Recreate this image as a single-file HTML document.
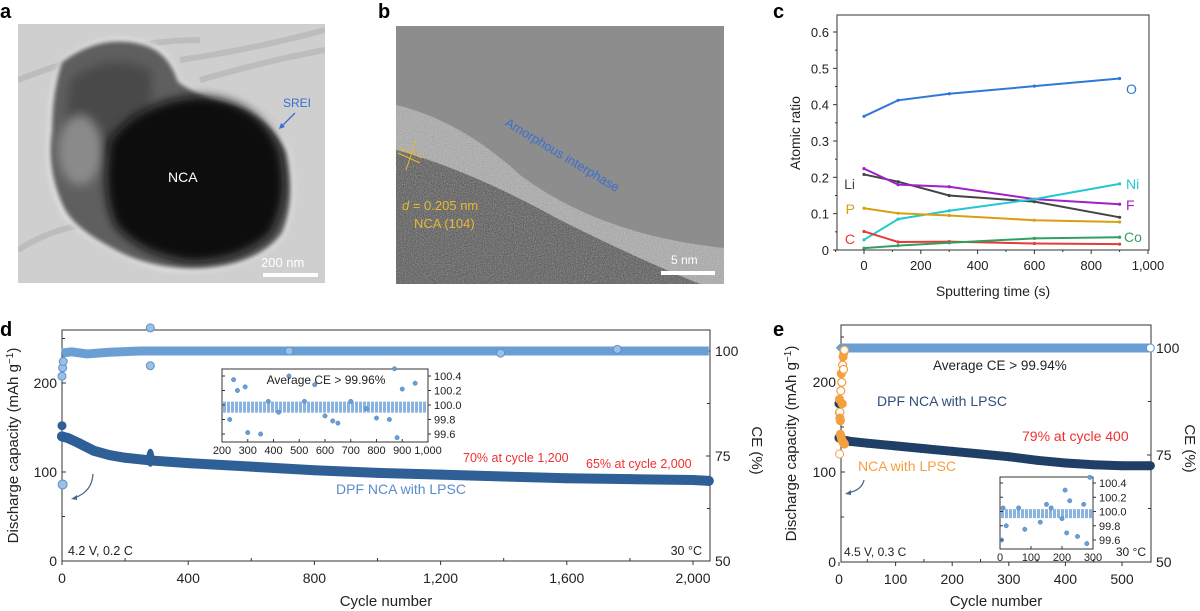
<!DOCTYPE html>
<html><head><meta charset="utf-8">
<style>
html,body{margin:0;padding:0;background:#fff;}
svg{display:block;font-family:"Liberation Sans",sans-serif;}
</style></head>
<body>
<svg id="fig" width="1200" height="611" viewBox="0 0 1200 611" xmlns="http://www.w3.org/2000/svg">
<defs>
<filter id="blur4"><feGaussianBlur stdDeviation="5"/></filter>
<filter id="blur2"><feGaussianBlur stdDeviation="2"/></filter>
<filter id="noise" x="0" y="0" width="100%" height="100%">
<feTurbulence type="fractalNoise" baseFrequency="0.9" numOctaves="2" seed="3"/>
<feColorMatrix type="saturate" values="0"/>
<feComponentTransfer><feFuncA type="linear" slope="0.7"/></feComponentTransfer>
<feComposite in2="SourceGraphic" operator="in"/>
</filter>
<clipPath id="clipA"><rect x="18" y="24" width="307" height="259"/></clipPath>
<clipPath id="clipB"><rect x="396" y="26" width="328" height="258"/></clipPath>
</defs>

<!-- Panel a -->
<g>
<text x="0" y="18" font-size="20" font-weight="bold">a</text>
<g clip-path="url(#clipA)">
<rect x="18" y="24" width="307" height="259" fill="#cfcfcf"/>
<path d="M18 80 Q120 40 200 40 M18 250 Q80 210 150 230 M180 60 Q250 50 325 30 M200 80 Q270 60 325 50" stroke="#bdbdbd" stroke-width="6" fill="none"/>
<path d="M60 60 Q100 30 140 40 Q170 45 180 80 Q200 95 225 100 Q270 110 290 150 Q300 200 285 235 Q260 268 200 272 Q150 275 110 250 Q70 230 60 210 Q42 170 48 130 Q48 90 60 60 Z" fill="#e4e4e4" filter="url(#blur2)"/>
<path d="M62 62 Q100 34 140 44 Q168 50 178 82 Q200 97 225 103 Q268 113 286 152 Q296 200 282 233 Q258 265 200 268 Q150 270 112 248 Q74 228 64 208 Q46 170 52 130 Q52 92 62 62 Z" fill="#5e5e5e" filter="url(#blur2)"/>
<path d="M70 80 Q110 50 150 70 Q160 110 120 150 Q80 170 65 140 Z" fill="#4a4a4a" filter="url(#blur4)"/>
<ellipse cx="80" cy="150" rx="22" ry="35" fill="#8a8a8a" filter="url(#blur4)"/>
<path d="M110 140 Q140 100 200 96 Q260 100 280 150 Q292 200 270 235 Q240 262 190 262 Q140 255 115 225 Q100 190 110 140 Z" fill="#111" filter="url(#blur4)"/>
<text x="168" y="182" font-size="14" fill="#fff">NCA</text>
<text x="283" y="107" font-size="12" fill="#3a6fd0">SREI</text>
<line x1="295" y1="113" x2="281" y2="127" stroke="#3a6fd0" stroke-width="1.3"/>
<path d="M279 129 l2 -6 l4 4 z" fill="#3a6fd0"/>
<text x="261" y="267" font-size="13" fill="#fff">200 nm</text>
<rect x="263" y="273" width="55" height="4" fill="#fff"/>
</g>
</g>

<!-- Panel b -->
<g>
<text x="378" y="18" font-size="20" font-weight="bold">b</text>
<g clip-path="url(#clipB)">
<rect x="396" y="26" width="328" height="258" fill="#8d8d8d"/>
<path d="M396 105 Q460 120 520 175 Q600 235 724 248 L724 284 L396 284 Z" fill="#a8a8a8"/>
<path d="M396 105 Q460 120 520 175 Q600 235 724 248 L724 284 L396 284 Z" fill="#fff" filter="url(#noise)"/>
<path d="M396 150 Q470 170 560 220 Q640 260 700 284 L396 284 Z" fill="#4a4a4a"/>
<path d="M396 150 Q470 170 560 220 Q640 260 700 284 L396 284 Z" fill="#888" filter="url(#noise)"/>
<text x="0" y="0" font-size="13" fill="#3a6fd0" transform="translate(504,125) rotate(31)">Amorphous interphase</text>
<line x1="400" y1="148" x2="422" y2="158" stroke="#e8b830" stroke-width="1.2"/>
<line x1="398" y1="153" x2="420" y2="163" stroke="#e8b830" stroke-width="1.2"/>
<line x1="416" y1="140" x2="406" y2="170" stroke="#e8b830" stroke-width="1"/>
<text x="402" y="210" font-size="13" fill="#e8b830"><tspan font-style="italic">d</tspan> = 0.205 nm</text>
<text x="414" y="228" font-size="13" fill="#e8b830">NCA (104)</text>
<text x="671" y="264" font-size="12" fill="#fff">5 nm</text>
<rect x="661" y="271" width="54" height="4" fill="#fff"/>
</g>
</g>

<g id="pc"></g>
<g id="pd"></g>
<g id="pe"></g>
</svg>
<script>
// ---------- Panel c data ----------
const cTimes = [0, 120, 300, 600, 900];
const cO  = [0.368, 0.412, 0.430, 0.451, 0.472];
const cLi = [0.208, 0.188, 0.150, 0.133, 0.090];
const cF  = [0.224, 0.180, 0.174, 0.140, 0.126];
const cNi = [0.028, 0.085, 0.108, 0.140, 0.182];
const cP  = [0.115, 0.101, 0.095, 0.082, 0.077];
const cC  = [0.051, 0.022, 0.023, 0.018, 0.016];
const cCo = [0.005, 0.012, 0.020, 0.032, 0.035];
const cXTicks = [0, 200, 400, 600, 800, 1000];
const cXTickLabels = ["0", "200", "400", "600", "800", "1,000"];
const cYTicks = [0, 0.1, 0.2, 0.3, 0.4, 0.5, 0.6];
const cYTickLabels = ["0", "0.1", "0.2", "0.3", "0.4", "0.5", "0.6"];

// ---------- Panel d data ----------
const dCycles = [0, 20, 50, 100, 150, 200, 280, 400, 600, 800, 1000, 1200, 1400, 1600, 1800, 2000, 2050];
const dCapacity = [140, 138, 133, 124, 119, 116, 113, 110, 106, 102, 99, 97, 95, 93, 92, 91, 90];
const dCECycles = [0, 30, 80, 150, 250, 500, 1000, 1500, 2050];
const dCE = [99.5, 99.8, 99.3, 99.7, 100, 100, 100, 100, 100];
const dOutCycles = [0, 2, 4, 280, 280, 720, 1760, 1390];
const dOutCE = [94, 96, 97.5, 105.5, 96.5, 100, 100.4, 99.5];
const dOutCap = [[0, 152], [2, 86]];
const dXTicks = [0, 400, 800, 1200, 1600, 2000];
const dXTickLabels = ["0", "400", "800", "1,200", "1,600", "2,000"];
const dYTicks = [0, 100, 200];
const dCETicks = [50, 75, 100];
const dInsetX = [230, 245, 260, 290, 300, 350, 380, 420, 460, 520, 560, 600, 630, 650, 700, 760, 800, 850, 870, 880, 900, 950];
const dInsetCE = [99.8, 100.35, 100.2, 100.25, 99.62, 99.6, 100.05, 99.9, 100.4, 100.05, 100.28, 99.85, 99.78, 99.75, 100.05, 99.95, 99.82, 99.8, 100.5, 99.55, 100.22, 100.3];
const dInsetXTicks = [200, 300, 400, 500, 600, 700, 800, 900, 1000];
const dInsetXTickLabels = ["200", "300", "400", "500", "600", "700", "800", "900", "1,000"];
const dInsetYTicks = [99.6, 99.8, 100.0, 100.2, 100.4];

// ---------- Panel e data ----------
const eCycles = [0, 5, 20, 50, 100, 150, 200, 250, 300, 350, 400, 450, 500, 550];
const eCapacity = [138, 136, 134, 132, 129, 126, 123, 120, 117, 113, 110, 108, 107, 107];
const eCECycles = [0, 5, 100, 300, 550];
const eCE = [99.3, 100, 100, 100, 100];
const eNCACycles = [1, 2, 3, 4, 5, 6, 7, 8, 9, 10, 11, 12];
const eNCACap = [166, 160, 142, 140, 138, 136, 135, 134, 133, 132, 132, 131];
const eNCACE = [88, 85, 83, 90, 94, 92, 87, 96, 98, 95, 99, 99.5];
const eXTicks = [0, 100, 200, 300, 400, 500];
const eYTicks = [0, 100, 200];
const eCETicks = [50, 75, 100];
const eInsetX = [5, 10, 20, 60, 80, 130, 150, 165, 200, 210, 215, 225, 250, 270, 280, 290];
const eInsetCE = [99.6, 100.05, 99.8, 100.05, 99.75, 99.85, 100.1, 100.05, 99.9, 100.3, 99.7, 100.15, 99.65, 100.1, 99.55, 100.48];
const eInsetXTicks = [0, 100, 200, 300];
const eInsetYTicks = [99.6, 99.8, 100.0, 100.2, 100.4];

const NS = "http://www.w3.org/2000/svg";
function mk(parent, tag, attrs, text) {
  const el = document.createElementNS(NS, tag);
  for (const k in attrs) el.setAttribute(k, attrs[k]);
  if (text !== undefined) el.textContent = text;
  parent.appendChild(el);
  return el;
}
function lin(d0, d1, r0, r1) { return v => r0 + (v - d0) * (r1 - r0) / (d1 - d0); }

// ================= Panel c =================
(function () {
  const g = document.getElementById('pc');
  const x = lin(0, 1000, 864, 1148), y = lin(0, 0.6, 250, 32);
  let t = mk(g, 'text', {x: 773, y: 18, 'font-size': 20, 'font-weight': 'bold'}, 'c');
   
  let r = mk(g, 'rect', {x: 837, y: 15, width: 312, height: 235, fill: 'none', stroke: '#333', 'stroke-width': 1});
   
  cXTicks.forEach((v, i) => {
    mk(g, 'line', {x1: x(v), x2: x(v), y1: 250, y2: 254, stroke: '#333'});
    if (i < cXTicks.length - 1) mk(g, 'line', {x1: x(v + 100), x2: x(v + 100), y1: 250, y2: 252, stroke: '#333'});
    const tl = mk(g, 'text', {x: x(v), y: 270, 'font-size': 13, 'text-anchor': 'middle', fill: '#222'}, cXTickLabels[i]);
     
  });
  mk(g, 'line', {x1: x(-100), x2: x(-100), y1: 250, y2: 252, stroke: '#333'});
  cYTicks.forEach((v, i) => {
    mk(g, 'line', {x1: 833, x2: 837, y1: y(v), y2: y(v), stroke: '#333'});
    if (i < cYTicks.length - 1) mk(g, 'line', {x1: 835, x2: 837, y1: y(v + 0.05), y2: y(v + 0.05), stroke: '#333'});
    const tl = mk(g, 'text', {x: 829, y: y(v) + 5, 'font-size': 13, 'text-anchor': 'end', fill: '#222'}, cYTickLabels[i]);
     
  });
  t = mk(g, 'text', {x: 993, y: 296, 'font-size': 14, 'text-anchor': 'middle', fill: '#222'}, 'Sputtering time (s)');
   
  t = mk(g, 'text', {x: 0, y: 0, 'font-size': 14, 'text-anchor': 'middle', fill: '#222', transform: 'translate(800,133) rotate(-90)'}, 'Atomic ratio');
   
  const series = [
    ['O', cO, '#2f78d8', 1126, 94, 'start'],
    ['Li', cLi, '#444', 855, 189, 'end'],
    ['F', cF, '#a020c8', 1126, 210, 'start'],
    ['Ni', cNi, '#20c8d0', 1126, 189, 'start'],
    ['P', cP, '#d8a010', 855, 214, 'end'],
    ['C', cC, '#e83838', 855, 244, 'end'],
    ['Co', cCo, '#30a060', 1124, 242, 'start']
  ];
  series.forEach(s => {
    const pts = cTimes.map((tv, i) => x(tv) + ',' + y(s[1][i])).join(' ');
    const pl = mk(g, 'polyline', {points: pts, fill: 'none', stroke: s[2], 'stroke-width': 2});
     
    cTimes.forEach((tv, i) => {
      const c = mk(g, 'circle', {cx: x(tv), cy: y(s[1][i]), r: 1.6, fill: s[2]});
       
    });
    const lb = mk(g, 'text', {x: s[3], y: s[4], 'font-size': 14, fill: s[2], 'text-anchor': s[5]}, s[0]);
     
  });
})();

// shared cycling-panel helper
function cyclePanel(opt) {
  const g = document.getElementById(opt.id);
  const x = lin(0, opt.xMax, opt.x0, opt.x1);
  const y = lin(0, 100, opt.yb, opt.y100);
  const yce = lin(50, 100, opt.yb, opt.ce100);
  let t = mk(g, 'text', {x: opt.lx, y: opt.ly, 'font-size': 20, 'font-weight': 'bold'}, opt.letter);
   
  let r = mk(g, 'rect', {x: opt.bl, y: opt.bt, width: opt.br - opt.bl, height: opt.yb - opt.bt, fill: 'none', stroke: '#333'});
   
  opt.xTicks.forEach((v, i) => {
    mk(g, 'line', {x1: x(v), x2: x(v), y1: opt.yb, y2: opt.yb + 4, stroke: '#333'});
    if (x(v + opt.xMinor) < opt.br - 2) mk(g, 'line', {x1: x(v + opt.xMinor), x2: x(v + opt.xMinor), y1: opt.yb, y2: opt.yb - 3, stroke: '#333'});
    const tl = mk(g, 'text', {x: x(v), y: opt.yb + 22, 'font-size': 14, 'text-anchor': 'middle', fill: '#222'}, opt.xLabels[i]);
     
  });
  opt.yTicks.forEach(v => {
    mk(g, 'line', {x1: opt.bl, x2: opt.bl + 4, y1: y(v), y2: y(v), stroke: '#333'});
    mk(g, 'line', {x1: opt.bl, x2: opt.bl + 3, y1: y(v + 50), y2: y(v + 50), stroke: '#333'});
    const tl = mk(g, 'text', {x: opt.bl - 5, y: y(v) + 5, 'font-size': 14, 'text-anchor': 'end', fill: '#222'}, String(v));
     
  });
  opt.ceTicks.forEach((v, i) => {
    mk(g, 'line', {x1: opt.br - 4, x2: opt.br, y1: yce(v), y2: yce(v), stroke: '#333'});
    if (i < opt.ceTicks.length - 1) mk(g, 'line', {x1: opt.br - 3, x2: opt.br, y1: yce(v + 12.5), y2: yce(v + 12.5), stroke: '#333'});
    const tl = mk(g, 'text', {x: opt.br + 5, y: yce(v) + 5, 'font-size': 14, fill: '#222'}, String(v));
     
  });
  t = mk(g, 'text', {x: (opt.bl + opt.br) / 2, y: 606, 'font-size': 15, 'text-anchor': 'middle', fill: '#222'}, 'Cycle number');
   
  t = mk(g, 'text', {x: 0, y: 0, 'font-size': 15, 'text-anchor': 'middle', fill: '#222', transform: 'translate(' + opt.ytx + ',' + ((opt.bt + opt.yb) / 2) + ') rotate(-90)'});
  t.innerHTML = 'Discharge capacity (mAh g<tspan baseline-shift="super" font-size="10">−1</tspan>)';
   
  t = mk(g, 'text', {x: 0, y: 0, 'font-size': 15, 'text-anchor': 'middle', fill: '#222', transform: 'translate(' + opt.cetx + ',' + ((opt.bt + opt.yb) / 2 + 5) + ') rotate(90)'}, 'CE (%)');
   
  return {g, x, y, yce};
}

function drawInset(g, o) {
  const x = lin(o.xd0, o.xd1, o.l, o.r), y = lin(99.6, 100.4, o.y0, o.y1);
  let r = mk(g, 'rect', {x: o.l, y: o.t, width: o.r - o.l, height: o.b - o.t, fill: '#fff', stroke: '#333'});
   
  const band = mk(g, 'line', {x1: o.l + 1, x2: o.r - 1, y1: y(99.97), y2: y(99.97), stroke: '#8ab4e0', 'stroke-width': o.bw, 'stroke-dasharray': '3 1'});
   
  o.px.forEach((v, i) => {
    const c = mk(g, 'circle', {cx: x(v), cy: y(o.py[i]), r: 2.2, fill: '#6a9fd4', stroke: '#4a80c0', 'stroke-width': 0.5});
     
  });
  o.xt.forEach((v, i) => {
    mk(g, 'line', {x1: x(v), x2: x(v), y1: o.b, y2: o.b - 3, stroke: '#333'});
    const tl = mk(g, 'text', {x: x(v), y: o.b + 12, 'font-size': 11, 'text-anchor': 'middle', fill: '#222'}, o.xl[i]);
     
  });
  o.yt.forEach(v => {
    mk(g, 'line', {x1: o.r, x2: o.r + 3, y1: y(v), y2: y(v), stroke: '#333'});
    mk(g, 'line', {x1: o.l, x2: o.l + 3, y1: y(v), y2: y(v), stroke: '#333'});
    const tl = mk(g, 'text', {x: o.r + 6, y: y(v) + 4, 'font-size': 11, fill: '#222'}, v.toFixed(1));
     
  });
}

// ================= Panel d =================
(function () {
  const P = cyclePanel({id: 'pd', letter: 'd', lx: 0, ly: 336, xMax: 2000, x0: 62, x1: 693, bl: 62, br: 710, bt: 330, yb: 561,
    y100: 472, ce100: 351, xTicks: dXTicks, xLabels: dXTickLabels, xMinor: 200, yTicks: dYTicks, ceTicks: dCETicks, ytx: 18, cetx: 752});
  const {g, x, y, yce} = P;
  const ceBand = mk(g, 'polyline', {points: dCECycles.map((c, i) => x(c) + ',' + yce(dCE[i])).join(' '), fill: 'none', stroke: '#6a9fd4', 'stroke-width': 9, 'stroke-linejoin': 'round'});
   
  dOutCycles.forEach((c, i) => {
    const o = mk(g, 'circle', {cx: x(c), cy: yce(dOutCE[i]), r: 4, fill: '#9cc0e4', stroke: '#5a90cc', 'stroke-width': 1});
     
  });
  const cap = mk(g, 'polyline', {points: dCycles.map((c, i) => x(c) + ',' + y(dCapacity[i])).join(' '), fill: 'none', stroke: '#2e5f96', 'stroke-width': 10, 'stroke-linejoin': 'round', 'stroke-linecap': 'round'});
   
  dCycles.forEach((c, i) => {
    const o = mk(g, 'circle', {cx: x(c), cy: y(dCapacity[i]), r: 5, fill: '#2e5f96'});
     
  });
  mk(g, 'ellipse', {cx: x(280), cy: y(116), rx: 4, ry: 9, fill: '#2e5f96'});
  dOutCap.forEach(p => {
    const o = mk(g, 'circle', {cx: x(p[0]), cy: y(p[1]), r: 4.5, fill: p[1] > 120 ? '#2e5f96' : '#9cc0e4', stroke: '#5a90cc', 'stroke-width': p[1] > 120 ? 0 : 1});
     
  });
  const arr = mk(g, 'path', {d: 'M93 474 Q92 492 74 498', fill: 'none', stroke: '#4a6a8a', 'stroke-width': 1.3});
   
  mk(g, 'path', {d: 'M71 499 l6 -4 l0 5 z', fill: '#4a6a8a'});
  let t = mk(g, 'text', {x: 401, y: 494, 'font-size': 14, 'text-anchor': 'middle', fill: '#5a8cc8'}, 'DPF NCA with LPSC');
   
  t = mk(g, 'text', {x: 463, y: 462, 'font-size': 12.5, fill: '#f03030'}, '70% at cycle 1,200');
   
  t = mk(g, 'text', {x: 586, y: 468, 'font-size': 12.5, fill: '#f03030'}, '65% at cycle 2,000');
   
  t = mk(g, 'text', {x: 68, y: 555, 'font-size': 12.5, fill: '#222'}, '4.2 V, 0.2 C');
   
  t = mk(g, 'text', {x: 702, y: 555, 'font-size': 12.5, fill: '#222', 'text-anchor': 'end'}, '30 °C');
   
  drawInset(g, {letter: 'd', l: 222, r: 428, t: 369, b: 442, xd0: 200, xd1: 1000, y0: 434, y1: 376, bw: 11,
    px: dInsetX, py: dInsetCE, xt: dInsetXTicks, xl: dInsetXTickLabels, yt: dInsetYTicks});
  t = mk(g, 'text', {x: 326, y: 384, 'font-size': 12, fill: '#222', 'text-anchor': 'middle'}, 'Average CE > 99.96%');
   
})();

// ================= Panel e =================
(function () {
  const P = cyclePanel({id: 'pe', letter: 'e', lx: 773, ly: 336, xMax: 500, x0: 839, x1: 1122, bl: 841, br: 1151, bt: 325, yb: 562,
    y100: 472, ce100: 348, xTicks: eXTicks, xLabels: eXTicks.map(String), xMinor: 50, yTicks: eYTicks, ceTicks: eCETicks, ytx: 796, cetx: 1185});
  const {g, x, y, yce} = P;
  const ceBand = mk(g, 'polyline', {points: eCECycles.map((c, i) => x(c) + ',' + yce(eCE[i])).join(' '), fill: 'none', stroke: '#6a9fd4', 'stroke-width': 9, 'stroke-linejoin': 'round'});
   
  mk(g, 'circle', {cx: x(550), cy: yce(100), r: 4, fill: '#fff', stroke: '#5a90cc'});
  const cap = mk(g, 'polyline', {points: eCycles.map((c, i) => x(c) + ',' + y(eCapacity[i])).join(' '), fill: 'none', stroke: '#1f3f66', 'stroke-width': 9, 'stroke-linejoin': 'round', 'stroke-linecap': 'round'});
   
  eCycles.forEach((c, i) => {
    const o = mk(g, 'circle', {cx: x(c), cy: y(eCapacity[i]), r: 4.5, fill: '#1f3f66'});
     
  });
  mk(g, 'circle', {cx: x(0), cy: y(176), r: 4.5, fill: '#1f3f66'});
  eNCACycles.forEach((c, i) => {
    const o = mk(g, 'circle', {cx: x(c * 0.8), cy: yce(eNCACE[i]), r: 4, fill: i % 2 ? '#fff' : '#f4a040', stroke: '#f4a040', 'stroke-width': 1.2});
     
    const p = mk(g, 'circle', {cx: x(c * 0.8), cy: y(eNCACap[i]), r: 4.5, fill: '#f4a040'});
     
  });
  mk(g, 'circle', {cx: x(1), cy: y(120), r: 4, fill: '#fff', stroke: '#f4a040'});
  const arr = mk(g, 'path', {d: 'M864 480 Q862 490 848 493', fill: 'none', stroke: '#4a6a8a', 'stroke-width': 1.3});
   
  mk(g, 'path', {d: 'M845 494 l6 -4 l0 5 z', fill: '#4a6a8a'});
  let t = mk(g, 'text', {x: 877, y: 406, 'font-size': 14, fill: '#2e4f7a'}, 'DPF NCA with LPSC');
   
  t = mk(g, 'text', {x: 858, y: 471, 'font-size': 14, fill: '#f4a040'}, 'NCA with LPSC');
   
  t = mk(g, 'text', {x: 1022, y: 441, 'font-size': 14, fill: '#f03030'}, '79% at cycle 400');
   
  t = mk(g, 'text', {x: 933, y: 370, 'font-size': 13.5, fill: '#222'}, 'Average CE > 99.94%');
   
  t = mk(g, 'text', {x: 844, y: 556, 'font-size': 12, fill: '#222'}, '4.5 V, 0.3 C');
   
  t = mk(g, 'text', {x: 1146, y: 556, 'font-size': 12, fill: '#222', 'text-anchor': 'end'}, '30 °C');
   
  drawInset(g, {letter: 'e', l: 1000, r: 1093, t: 477, b: 549, xd0: 0, xd1: 300, y0: 540, y1: 483, bw: 9,
    px: eInsetX, py: eInsetCE, xt: eInsetXTicks, xl: eInsetXTicks.map(String), yt: eInsetYTicks});
})();
</script>
</body></html>
